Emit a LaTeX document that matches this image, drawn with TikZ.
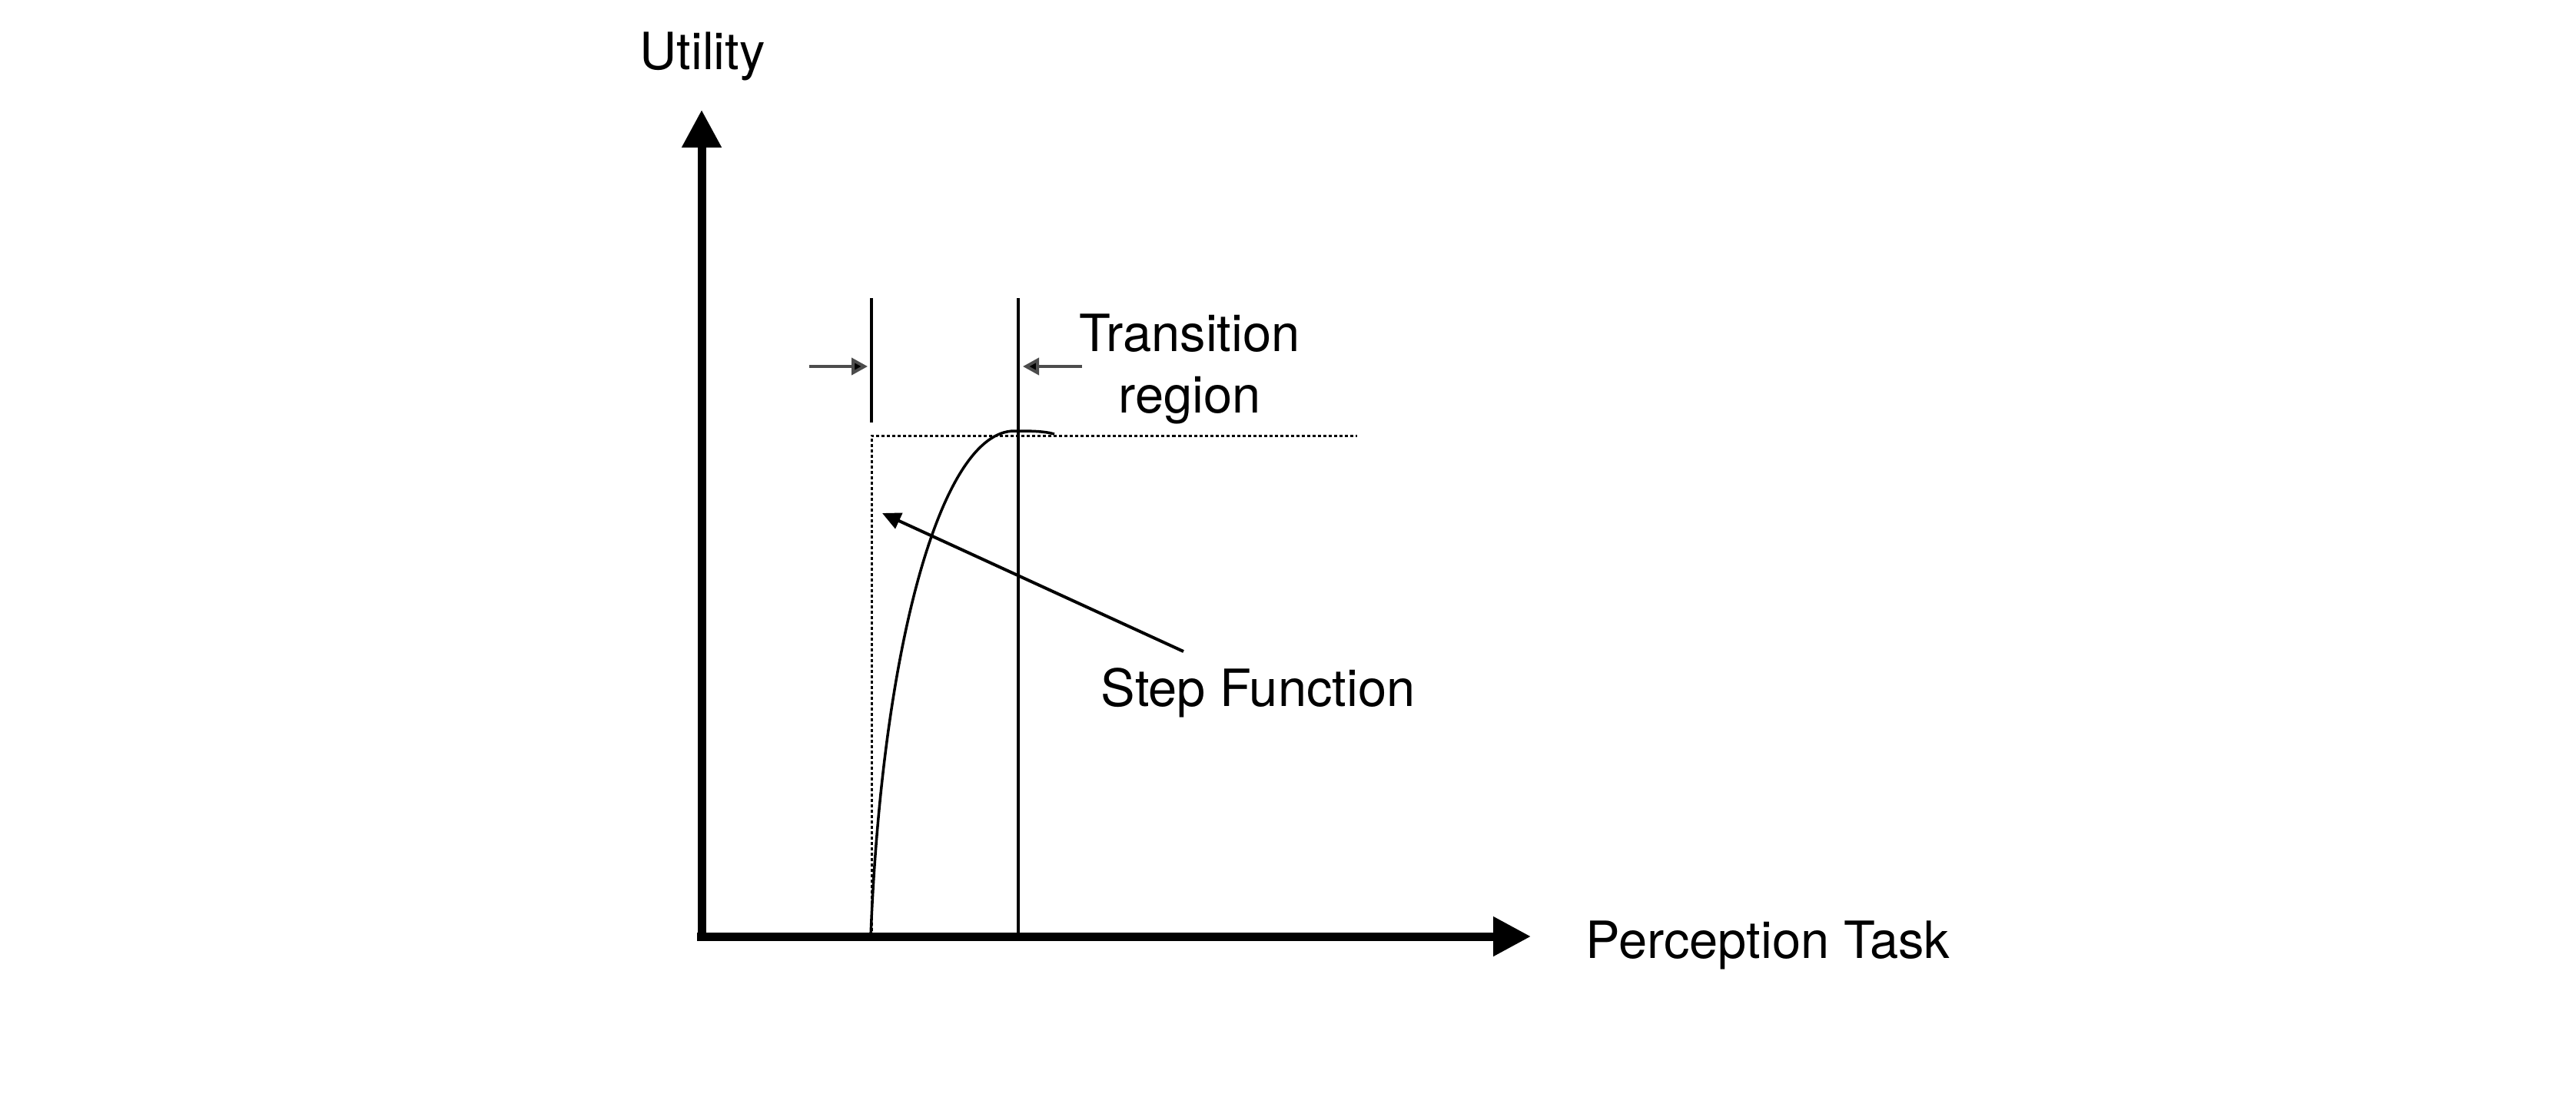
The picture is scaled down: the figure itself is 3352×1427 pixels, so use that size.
\documentclass[tikz,border=0pt]{standalone}
\usepackage{fontspec}
\setmainfont{TeX Gyre Heros}
\usetikzlibrary{arrows.meta}
\begin{document}
\begin{tikzpicture}[x=0.01cm,y=-0.01cm,
  axisline/.style={line width=0.11cm,-{Triangle[length=0.49cm,width=0.49cm]}},
  guide/.style={line width=0.033cm},
  dotline/.style={line width=0.03cm,dash pattern=on 0.04cm off 0.03cm},
  regarrow/.style={line width=0.04cm,draw=black!70,-{Triangle[length=0.21cm,width=0.22cm,fill=black]}},
  pointer/.style={line width=0.04cm,-{Triangle[length=0.24cm,width=0.22cm]}},
  curve/.style={line width=0.035cm},
  lbl/.style={font=\fontsize{19}{22.8}\selectfont,inner sep=0pt}
]
\fill[white] (0,0) rectangle (3352,1427);
\useasboundingbox (0,0) rectangle (3352,1427);

% axis coordinates
\coordinate (ybot) at (913,1225);
\coordinate (ytop) at (913,143);
\coordinate (xleft) at (907,1219);
\coordinate (xright) at (1992,1219);

% guide coordinates
\coordinate (lt) at (1134,388);
\coordinate (lb) at (1134,550);
\coordinate (rt) at (1325,388);
\coordinate (rb) at (1325,1219);
\coordinate (da) at (1134,1219);
\coordinate (db) at (1134,567);
\coordinate (dc) at (1766,567);

% small arrow coordinates
\coordinate (la0) at (1053,477);
\coordinate (la1) at (1129,477);
\coordinate (ra0) at (1408,477);
\coordinate (ra1) at (1331,477);

% curve coordinates
\coordinate (c0) at (1133,1219);
\coordinate (c1) at (1320,561);
\coordinate (c2) at (1372,565);

% pointer coordinates
\coordinate (p0) at (1540,848);
\coordinate (p1) at (1148,668);

% step function (dotted)
\draw[dotline] (da) -- (db) -- (dc);

% guide lines
\draw[guide] (lt) -- (lb);
\draw[guide] (rt) -- (rb);

% curve
\draw[curve] (c0) .. controls (1148,840) and (1225,561) .. (c1)
                  .. controls (1340,561) and (1358,561) .. (c2);

% axes
\draw[axisline] (ybot) -- (ytop);
\draw[axisline] (xleft) -- (xright);

% transition region arrows
\draw[regarrow] (la0) -- (la1);
\draw[regarrow] (ra0) -- (ra1);

% pointer
\draw[pointer] (p0) -- (p1);

% labels
\node[lbl,anchor=base] (util) at (914,90) {Utility};
\node[lbl,anchor=base] (tr1) at (1548,457) {Transition};
\node[lbl,anchor=base] (tr2) at (1548,537) {region};
\node[lbl,anchor=base] (sf) at (1637,919) {Step Function};
\node[lbl,anchor=base west] (pt) at (2063,1247) {Perception Task};
\end{tikzpicture}
\end{document}
